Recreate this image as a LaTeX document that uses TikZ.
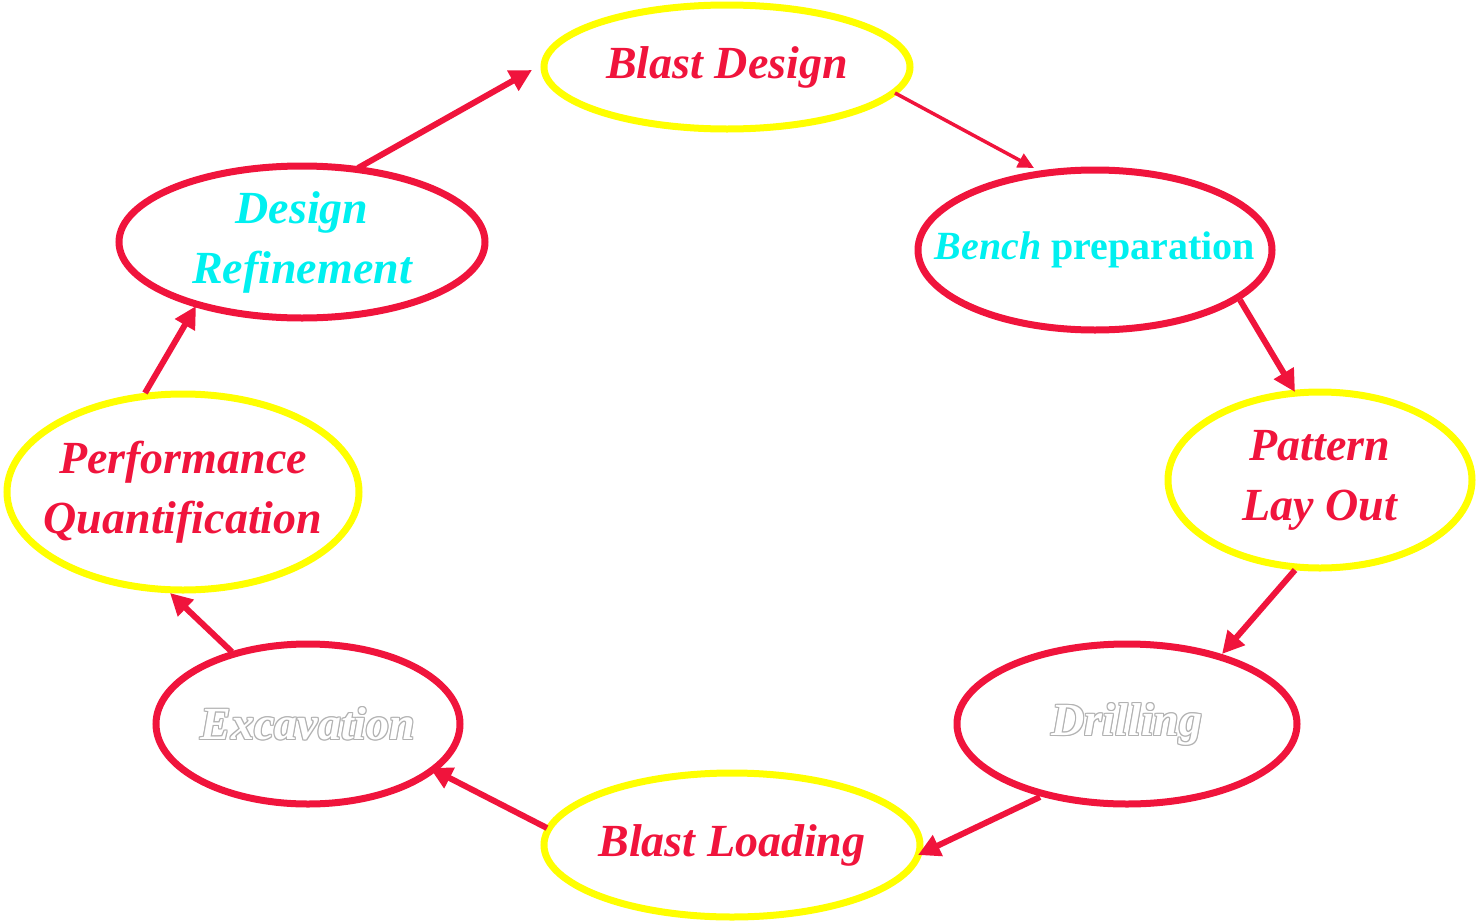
\documentclass[tikz,border=0pt]{standalone}
\usepackage{fontspec}
\setmainfont{Liberation Serif}[BoldItalicFont={Liberation Serif Bold Italic},BoldFont={Liberation Serif Bold}]
\usetikzlibrary{shapes.geometric,arrows.meta}
\definecolor{cred}{HTML}{F0143C}
\definecolor{cyel}{HTML}{FFFF00}
\definecolor{ccy}{HTML}{00F0F0}
\tikzset{
  ell/.style={ellipse,line width=7pt,inner sep=0pt},
  redell/.style={ell,draw=cred},
  yelell/.style={ell,draw=cyel},
  lbl/.style={font=\fontsize{46}{60}\selectfont\bfseries\itshape,align=center},
  conn/.style={draw=cred,line width=6pt,-{Triangle[length=22pt,width=22pt]}},
}
\begin{document}
\begin{tikzpicture}[x=1pt,y=-1pt]
\useasboundingbox (0,0) rectangle (1476,924);
\node[yelell,minimum width=366pt,minimum height=124pt] (bd) at (727,67) {};
\node[lbl,text=cred] at (bd) {Blast Design};
\node[redell,minimum width=354pt,minimum height=160pt] (bp) at (1095,250) {};
\node[font=\fontsize{40}{48}\selectfont\bfseries,text=ccy] at (bp) {\itshape Bench\upshape\ preparation};
\node[yelell,minimum width=304pt,minimum height=176pt] (pl) at (1320,480) {};
\node[lbl,text=cred] at (pl) {Pattern\\Lay Out};
\node[redell,minimum width=340pt,minimum height=160pt] (dr) at (1127,724) {};
\node[yelell,minimum width=376pt,minimum height=144pt] (bl) at (732,845) {};
\node[lbl,text=cred] at (bl) {Blast Loading};
\node[redell,minimum width=304pt,minimum height=160pt] (ex) at (308,724) {};
\node[yelell,minimum width=352pt,minimum height=196pt] (pq) at (183,492) {};
\node[lbl,text=cred] at (pq) {Performance\\Quantification};
\node[redell,minimum width=366pt,minimum height=152pt] (rf) at (302,242) {};
\node[lbl,text=ccy] at (rf) {Design\\Refinement};
\foreach \dx/\dy in {1/0,-1/0,0/1,0/-1,1/1,-1/-1,1/-1,-1/1}{
  \node[lbl,text=gray!60] at ([shift={(\dx,\dy)}]dr) {Drilling};
  \node[lbl,text=gray!60] at ([shift={(\dx,\dy)}]ex) {Excavation};
}
\node[lbl,text=white] at (dr) {Drilling};
\node[lbl,text=white] at (ex) {Excavation};
% connector end points
\coordinate (a1) at (358,168); \coordinate (a2) at (532,70);
\coordinate (b1) at (895,93);  \coordinate (b2) at (1034,168);
\coordinate (c1) at (1240,300); \coordinate (c2) at (1295,392);
\coordinate (d1) at (1295,570); \coordinate (d2) at (1222,654);
\coordinate (e1) at (1040,797); \coordinate (e2) at (918,855);
\coordinate (f1) at (547,828); \coordinate (f2) at (430,768);
\coordinate (g1) at (232,652); \coordinate (g2) at (170,593);
\coordinate (h1) at (145,393); \coordinate (h2) at (196,306);
\draw[conn] (a1) -- (a2);
\draw[draw=cred,line width=3.5pt,-{Triangle[length=16pt,width=15pt]}] (b1) -- (b2);
\draw[conn] (c1) -- (c2);
\draw[conn] (d1) -- (d2);
\draw[conn] (e1) -- (e2);
\draw[conn] (f1) -- (f2);
\draw[conn] (g1) -- (g2);
\draw[conn] (h1) -- (h2);
\end{tikzpicture}
\end{document}
